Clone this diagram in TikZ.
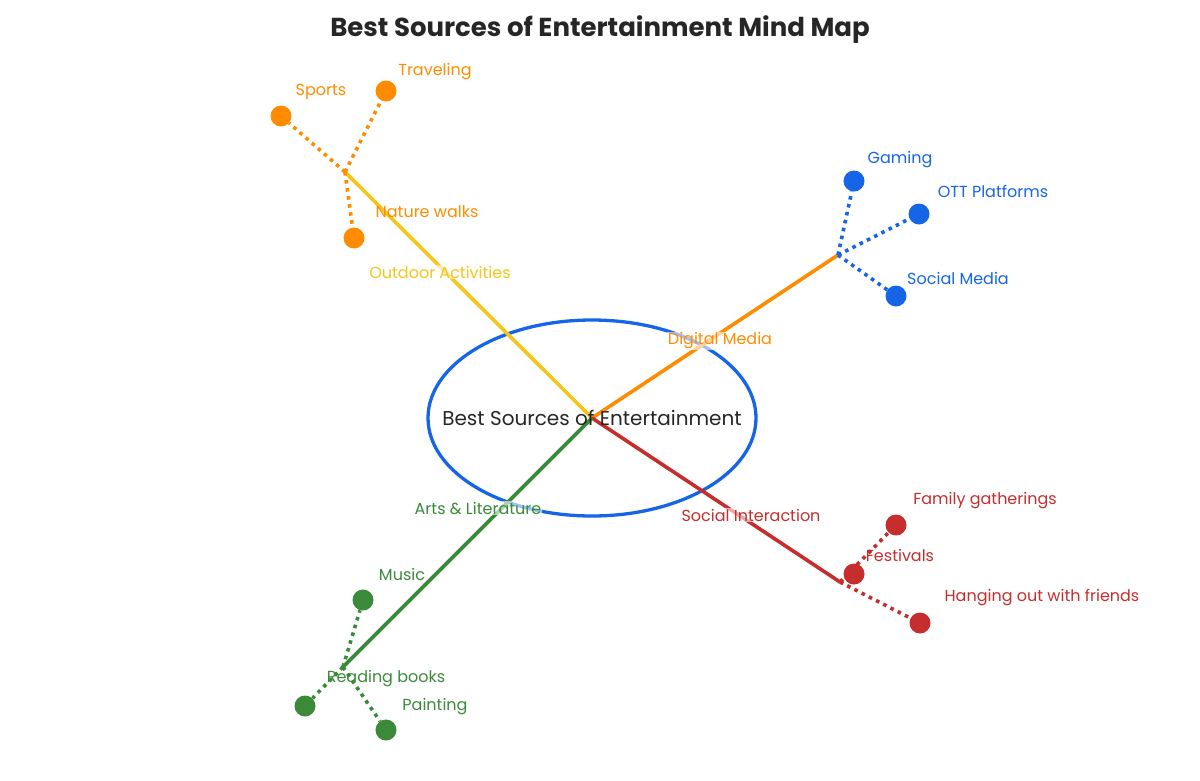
\documentclass[tikz,border=0pt]{standalone}
\usepackage{fontspec}
\usetikzlibrary{shapes.geometric}
\setmainfont{Poppins}
\begin{document}
\begin{tikzpicture}[x=1pt,y=-1pt,
 main/.style={line width=3.6pt},
 sub/.style={line width=3.6pt,dash pattern=on 3.6pt off 4.5pt},
 dot/.style={circle,fill,inner sep=0,minimum size=21pt},
 lab/.style={font=\fontsize{16}{19}\selectfont,inner sep=1pt},
 blab/.style={lab,fill=white,fill opacity=0.6,text opacity=1}]
\definecolor{cO}{HTML}{FF8C00}\definecolor{cY}{HTML}{F5C518}
\definecolor{cB}{HTML}{1565E6}\definecolor{cR}{HTML}{C62D2D}\definecolor{cG}{HTML}{3A8A3A}
\useasboundingbox (0,0) rectangle (1200,780);
\node[font=\fontsize{26}{30}\selectfont\bfseries,text=black!85] (t) at (600,30) {Best Sources of Entertainment Mind Map};
\node[draw=cB,line width=3.3pt,ellipse,minimum width=328pt,minimum height=196pt] (e) at (592,418) {};
\coordinate (c) at (592,418);
\coordinate (ho) at (345,172); \coordinate (hd) at (838,255);
\coordinate (hs) at (840,582); \coordinate (ha) at (343,667);
\node[dot,cO] (sp) at (281,116) {}; \node[dot,cO] (tr) at (386,91) {}; \node[dot,cO] (nw) at (354,238) {};
\node[dot,cB] (ga) at (854,181) {}; \node[dot,cB] (ot) at (919,214) {}; \node[dot,cB] (sm) at (896,296) {};
\node[dot,cR] (fg) at (896,525) {}; \node[dot,cR] (fe) at (854,574) {}; \node[dot,cR] (hf) at (920,623) {};
\node[dot,cG] (mu) at (363,600) {}; \node[dot,cG] (rb) at (305,706) {}; \node[dot,cG] (pa) at (386,730) {};
\draw[main,cY] (c)--(ho); \draw[main,cO] (c)--(hd); \draw[main,cR] (c)--(hs); \draw[main,cG] (c)--(ha);
\foreach \n in {sp,tr,nw} \draw[sub,cO] (ho)--(\n);
\foreach \n in {ga,ot,sm} \draw[sub,cB] (hd)--(\n);
\foreach \n in {fg,fe,hf} \draw[sub,cR] (hs)--(\n);
\foreach \n in {mu,rb,pa} \draw[sub,cG] (ha)--(\n);
\node[lab,text=black!85,font=\fontsize{20}{24}\selectfont] (ct) at (592,418) {Best Sources of Entertainment};
\node[blab,text=cY] (lo) at (440,272) {Outdoor Activities};
\node[blab,text=cO] (ld) at (720,341) {Digital Media};
\node[blab,text=cR] (ls) at (751,515) {Social Interaction};
\node[blab,text=cG] (la) at (478,508) {Arts \& Literature};
\node[lab,text=cO] at (321,92) {Sports};
\node[lab,text=cO] at (435,72) {Traveling};
\node[lab,text=cO] at (427,212) {Nature walks};
\node[lab,text=cB] at (900,160) {Gaming};
\node[lab,text=cB] at (993,191) {OTT Platforms};
\node[lab,text=cB] at (958,278) {Social Media};
\node[lab,text=cR] at (985,501) {Family gatherings};
\node[lab,text=cR] at (900,555) {Festivals};
\node[lab,text=cR] at (1042,598) {Hanging out with friends};
\node[lab,text=cG] at (402,574) {Music};
\node[lab,text=cG] at (386,679) {Reading books};
\node[lab,text=cG] at (435,707) {Painting};
\end{tikzpicture}
\end{document}
